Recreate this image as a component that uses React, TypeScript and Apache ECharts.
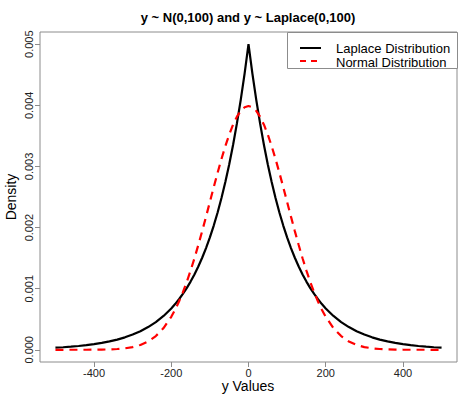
import React, { useEffect, useRef } from "react";
import * as echarts from "echarts";

const xValues = [
  -500, -480, -460, -440, -420, -400, -380, -360, -340, -320, -300, -280, -260, -240, -220,
  -200, -190, -180, -170, -160, -150, -140, -130, -120, -110, -100, -90, -80, -70, -60, -50, -40, -30, -20, -10,
  0,
  10, 20, 30, 40, 50, 60, 70, 80, 90, 100, 110, 120, 130, 140, 150, 160, 170, 180, 190, 200,
  220, 240, 260, 280, 300, 320, 340, 360, 380, 400, 420, 440, 460, 480, 500,
];

const laplaceValues = [
  0.0000337, 0.0000411, 0.0000503, 0.0000614, 0.000075, 0.0000916, 0.0001119, 0.0001366, 0.0001669, 0.0002038,
  0.0002489, 0.0003041, 0.0003714, 0.0004536, 0.000554,
  0.0006767, 0.0007478, 0.0008265, 0.0009134, 0.0010095, 0.0011157, 0.001233, 0.0013627, 0.001506, 0.0016644,
  0.0018394, 0.0020328, 0.0022466, 0.0024829, 0.0027441, 0.0030327, 0.0033516, 0.0037041, 0.0040937, 0.0045242,
  0.005,
  0.0045242, 0.0040937, 0.0037041, 0.0033516, 0.0030327, 0.0027441, 0.0024829, 0.0022466, 0.0020328, 0.0018394,
  0.0016644, 0.001506, 0.0013627, 0.001233, 0.0011157, 0.0010095, 0.0009134, 0.0008265, 0.0007478, 0.0006767,
  0.000554, 0.0004536, 0.0003714, 0.0003041, 0.0002489, 0.0002038, 0.0001669, 0.0001366, 0.0001119, 0.0000916,
  0.000075, 0.0000614, 0.0000503, 0.0000411, 0.0000337,
];

const normalValues = [
  0.0, 0.0, 0.0000001, 0.0000002, 0.0000006, 0.0000013, 0.0000029, 0.0000061, 0.0000123, 0.0000238,
  0.0000443, 0.0000792, 0.0001358, 0.0002239, 0.0003547,
  0.0005399, 0.0006562, 0.0007895, 0.0009405, 0.0011092, 0.0012952, 0.0014973, 0.0017137, 0.0019419, 0.0021785,
  0.0024197, 0.0026609, 0.0028969, 0.0031225, 0.0033322, 0.0035207, 0.0036827, 0.0038139, 0.0039104, 0.0039695,
  0.0039894,
  0.0039695, 0.0039104, 0.0038139, 0.0036827, 0.0035207, 0.0033322, 0.0031225, 0.0028969, 0.0026609, 0.0024197,
  0.0021785, 0.0019419, 0.0017137, 0.0014973, 0.0012952, 0.0011092, 0.0009405, 0.0007895, 0.0006562, 0.0005399,
  0.0003547, 0.0002239, 0.0001358, 0.0000792, 0.0000443, 0.0000238, 0.0000123, 0.0000061, 0.0000029, 0.0000013,
  0.0000006, 0.0000002, 0.0000001, 0.0, 0.0,
];

const xTicks = [-400, -200, 0, 200, 400];
const yTicks = [0, 0.001, 0.002, 0.003, 0.004, 0.005];

const titleText = "y ~ N(0,100) and y ~ Laplace(0,100)";
const xLabel = "y Values";
const yLabel = "Density";
const seriesNames = ["Laplace Distribution", "Normal Distribution"];

const FONT = "'Liberation Sans', Arial, sans-serif";

export default function App() {
  const ref = useRef<HTMLDivElement>(null);

  useEffect(() => {
    if (!ref.current) return;
    const chart = echarts.init(ref.current, null, { renderer: "svg" });
    const axisGray = "#8c8c8c";
    chart.setOption({
      animation: false,
      backgroundColor: "#ffffff",
      grid: {
        left: 40,
        right: 17,
        top: 32,
        bottom: 33,
        show: true,
        borderColor: axisGray,
        borderWidth: 1,
        containLabel: false,
      },
      xAxis: {
        type: "value",
        min: -540,
        max: 540,
        position: "bottom",
        splitLine: { show: false },
        axisLine: { show: false, onZero: false },
        axisTick: {
          show: true,
          customValues: xTicks,
          length: 5,
          lineStyle: { color: axisGray },
        },
        axisLabel: {
          customValues: xTicks,
          margin: 5,
          fontFamily: FONT,
          fontSize: 11,
          color: "#222",
        },
      },
      yAxis: {
        type: "value",
        min: -0.0002,
        max: 0.0052,
        position: "left",
        splitLine: { show: false },
        axisLine: { show: false, onZero: false },
        axisTick: {
          show: true,
          customValues: yTicks,
          length: 5,
          lineStyle: { color: axisGray },
        },
        axisLabel: {
          customValues: yTicks,
          rotate: 90,
          margin: 6,
          fontFamily: FONT,
          fontSize: 11,
          color: "#222",
          formatter: (v: number) => v.toFixed(3),
        },
      },
      series: [
        {
          name: seriesNames[0],
          type: "line",
          showSymbol: false,
          data: xValues.map((x, i) => [x, laplaceValues[i]]),
          lineStyle: { color: "#000000", width: 2.2 },
          z: 3,
        },
        {
          name: seriesNames[1],
          type: "line",
          showSymbol: false,
          data: xValues.map((x, i) => [x, normalValues[i]]),
          lineStyle: { color: "#ff0000", width: 2.2, type: [8, 6] },
          z: 4,
        },
      ],
      graphic: [
        {
          type: "text",
          x: 248,
          y: 17,
          style: {
            text: titleText,
            fontFamily: FONT,
            fontSize: 13,
            fontWeight: "bold",
            fill: "#000",
            align: "center",
            verticalAlign: "middle",
          },
        },
        {
          type: "text",
          x: 248,
          y: 386,
          style: {
            text: xLabel,
            fontFamily: FONT,
            fontSize: 14,
            fill: "#000",
            align: "center",
            verticalAlign: "middle",
          },
        },
        {
          type: "text",
          x: 11,
          y: 197,
          rotation: Math.PI / 2,
          style: {
            text: yLabel,
            fontFamily: FONT,
            fontSize: 14,
            fill: "#000",
            align: "center",
            verticalAlign: "middle",
          },
        },
        {
          type: "rect",
          shape: { x: 287.5, y: 32.5, width: 170, height: 36 },
          style: { fill: "#ffffff", stroke: axisGray, lineWidth: 1 },
          z: 10,
        },
        {
          type: "line",
          shape: { x1: 300, y1: 48, x2: 321, y2: 48 },
          style: { stroke: "#000", lineWidth: 2 },
          z: 11,
        },
        {
          type: "line",
          shape: { x1: 300, y1: 61, x2: 322, y2: 61 },
          style: { stroke: "#ff0000", lineWidth: 2, lineDash: [6, 5] },
          z: 11,
        },
        {
          type: "text",
          x: 336,
          y: 48,
          style: {
            text: seriesNames[0],
            fontFamily: FONT,
            fontSize: 13,
            fill: "#000",
            verticalAlign: "middle",
          },
          z: 11,
        },
        {
          type: "text",
          x: 336,
          y: 62,
          style: {
            text: seriesNames[1],
            fontFamily: FONT,
            fontSize: 13,
            fill: "#000",
            verticalAlign: "middle",
          },
          z: 11,
        },
      ],
    });
    return () => chart.dispose();
  }, []);

  return (
    <div
      ref={ref}
      style={{ position: "fixed", left: 0, top: 0, width: 474, height: 395 }}
    />
  );
}
